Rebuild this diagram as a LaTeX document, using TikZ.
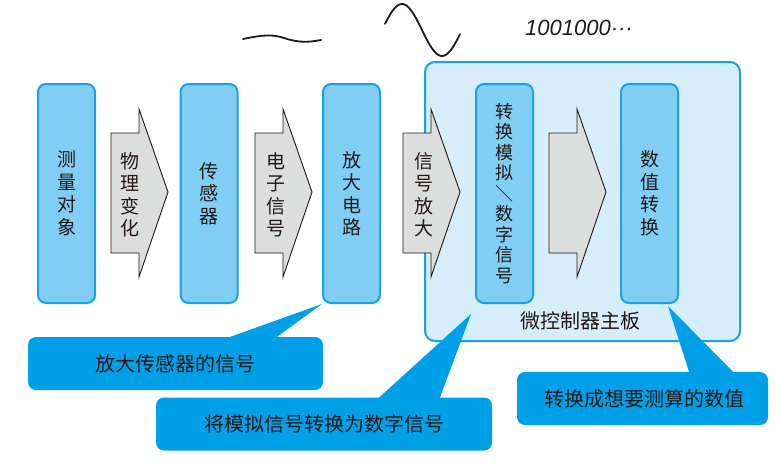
\documentclass[tikz,border=0pt]{standalone}
\usepackage{fontspec}
\usepackage{graphicx}
\setmainfont{Noto Sans CJK SC}
\newfontfamily\numfont{Liberation Sans}
\definecolor{boxfill}{HTML}{80CEF4}
\definecolor{boxline}{HTML}{1BA1E6}
\definecolor{boardfill}{HTML}{D6EDFA}
\definecolor{notefill}{HTML}{00A0E9}
\definecolor{arrowfill}{HTML}{DCDDDD}
\definecolor{ink}{HTML}{231815}
\begin{document}
\begin{tikzpicture}[
x=1pt,y=-1pt,
every node/.style={text=ink,inner sep=0pt},
stage/.style={draw=boxline,fill=boxfill,line width=2pt,rounded corners=8pt,
    minimum width=57pt,minimum height=219pt,align=center,font=\fontsize{19}{22.5}\selectfont},
board/.style={draw=boxline,fill=boardfill,line width=2pt,rounded corners=10pt,
    minimum width=315pt,minimum height=279pt},
sig/.style={draw=ink,fill=arrowfill,line width=0.9pt,line join=miter},
sigtext/.style={align=center,font=\fontsize{19}{22.5}\selectfont},
note/.style={fill=notefill,rounded corners=8pt,minimum height=53pt,font=\fontsize{20}{24}\selectfont},
wave/.style={draw=ink,line width=1.8pt,line cap=round}
]
\useasboundingbox (0,0) rectangle (777,466);
\node[board] (board) at (582.5,201.5) {};
\node[font=\fontsize{20}{24}\selectfont] (boardlabel) at (580,321) {微控制器主板};
\foreach \x in {111,255,403,549}
    \draw[sig] (\x,133) -- ({\x+28},133) -- ({\x+28},109) -- ({\x+57},192)
        -- ({\x+28},277) -- ({\x+28},253) -- (\x,253) -- cycle;
\node[stage] (target) at (66.5,193.5) {测\\量\\对\\象};
\node[stage] (sensor) at (209,193.5) {传\\感\\器};
\node[stage] (ampl) at (351.5,193.5) {放\\大\\电\\路};
\node[stage,font=\fontsize{18}{20.5}\selectfont] (adc) at (504.5,193.5)
    {转\\换\\模\\拟\\＼\\数\\字\\信\\号};
\node[stage] (conv) at (649.5,193.5) {数\\值\\转\\换};
\node[sigtext] (phys) at (130,195) {物\\理\\变\\化};
\node[sigtext] (elec) at (276,195) {电\\子\\信\\号};
\node[sigtext] (boost) at (424,195) {信\\号\\放\\大};
\draw[wave] (243,39) .. controls (262,35) and (272,34) .. (284,38)
    .. controls (296,42) and (306,43) .. (321,40);
\draw[wave,domain=385:460,samples=60,smooth] plot (\x,{30-26*cos((\x-402)*4.5)});
\node[font=\numfont\itshape\fontsize{22}{22}\selectfont] (bits) at (579,28) {1001000···};
\node[note,minimum width=295pt] (note1) at (175.5,363.5) {放大传感器的信号};
\node[note,minimum width=336pt] (note2) at (324,424) {将模拟信号转换为数字信号};
\node[note,minimum width=251pt] (note3) at (642.5,398.5) {\hspace{4pt}转换成想要测算的数值};
\fill[notefill] ([xshift=46.5pt,yshift=-3pt]note1.north) -- (ampl.south west)
    -- ([xshift=97.5pt,yshift=-3pt]note1.north) -- cycle;
\fill[notefill] ([xshift=52pt,yshift=-3pt]note2.north) -- ([xshift=-4pt,yshift=-10pt]adc.south west)
    -- ([xshift=115pt,yshift=-3pt]note2.north) -- cycle;
\fill[notefill] ([xshift=47.5pt,yshift=-3pt]note3.north) -- ([xshift=-11pt,yshift=-2pt]conv.south east)
    -- ([xshift=93.5pt,yshift=-3pt]note3.north) -- cycle;
\end{tikzpicture}
\end{document}
